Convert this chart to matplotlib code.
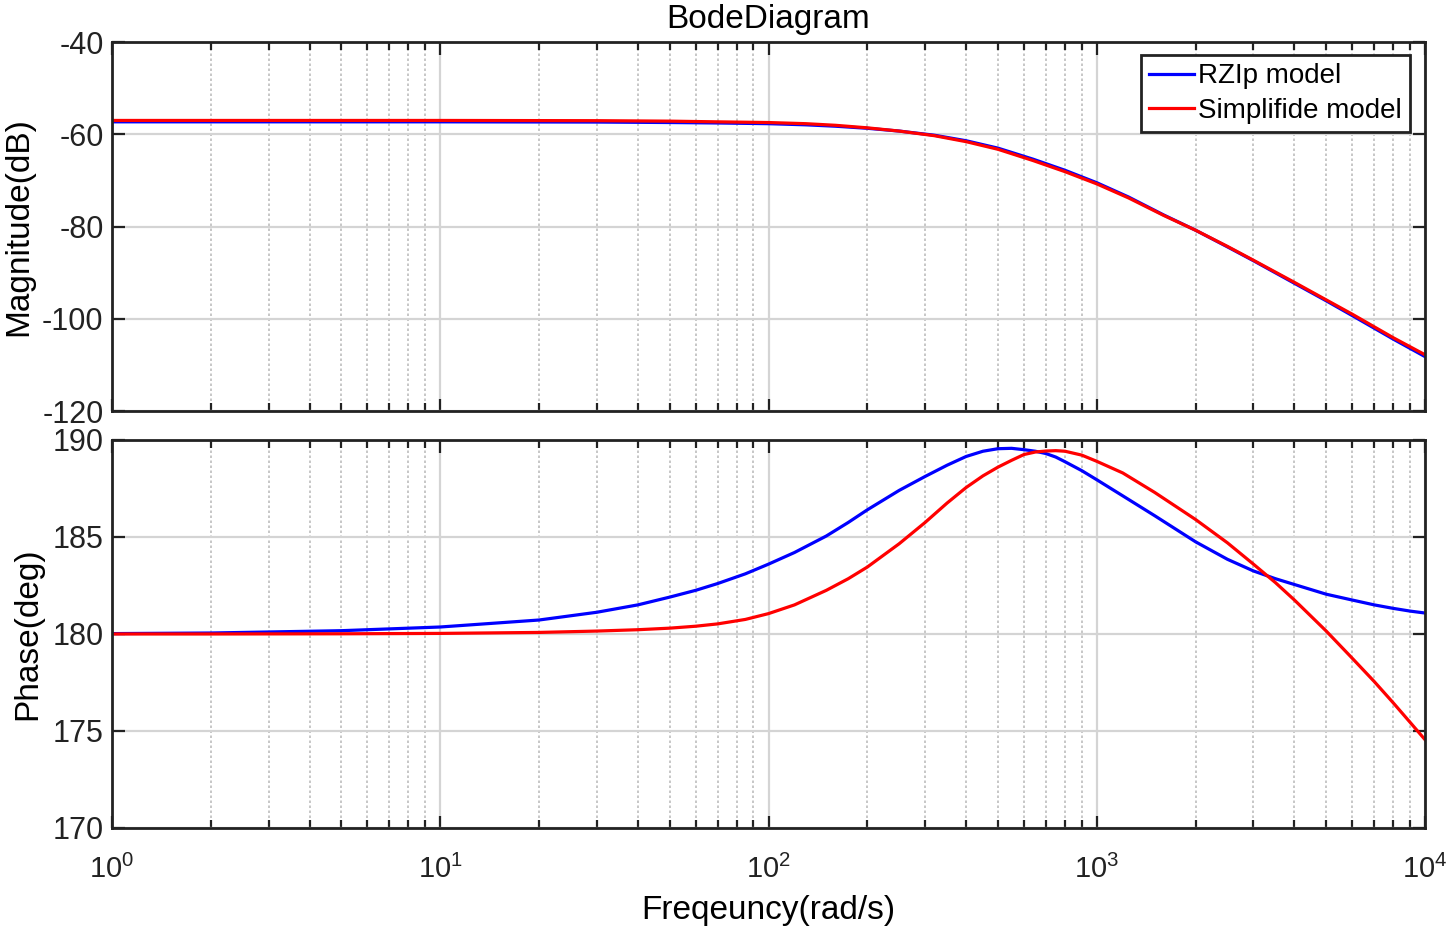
import matplotlib
matplotlib.use("Agg")
import matplotlib.pyplot as plt
from matplotlib.ticker import LogLocator, FixedLocator

plt.rcParams['font.family'] = ['Liberation Sans', 'DejaVu Sans']
plt.rcParams['axes.unicode_minus'] = False
plt.rcParams['mathtext.fontset'] = 'custom'
plt.rcParams['mathtext.rm'] = 'Liberation Sans'
plt.rcParams['mathtext.it'] = 'Liberation Sans'
plt.rcParams['mathtext.bf'] = 'Liberation Sans'

# ---------------- data ----------------
freq_mag = [1, 10, 30, 50, 70, 100, 130, 160, 200, 250, 320, 400, 500, 640,
            800, 1000, 1250, 1600, 2000, 2500, 3000, 4000, 5000, 6000, 8000,
            10000]
mag_rzip = [-57.3, -57.3, -57.35, -57.45, -57.55, -57.7, -57.95, -58.25,
            -58.7, -59.3, -60.2, -61.4, -63.0, -65.4, -67.8, -70.5, -73.6,
            -77.5, -80.8, -84.4, -87.4, -92.3, -96.1, -99.3, -104.4, -108.2]
mag_simp = [-57.0, -57.0, -57.05, -57.15, -57.3, -57.45, -57.7, -58.05,
            -58.6, -59.3, -60.3, -61.6, -63.25, -65.7, -68.1, -70.75, -73.8,
            -77.6, -80.8, -84.3, -87.3, -92.1, -95.9, -99.0, -104.1, -107.8]

freq_ph = [1, 2, 5, 10, 20, 30, 40, 50, 60, 70, 85, 100, 120, 150, 175, 200,
           250, 300, 350, 400, 450, 500, 550, 600, 650, 700, 750, 800, 900,
           1000, 1200, 1500, 2000, 2500, 3000, 3500, 4000, 5000, 6000, 7000,
           8000, 9000, 10000]
ph_rzip = [180.02, 180.05, 180.17, 180.36, 180.72, 181.12, 181.5, 181.9,
           182.25, 182.6, 183.1, 183.6, 184.2, 185.05, 185.75, 186.4, 187.4,
           188.12, 188.7, 189.15, 189.42, 189.55, 189.57, 189.5, 189.42,
           189.3, 189.12, 188.88, 188.42, 187.95, 187.12, 186.1, 184.75,
           183.85, 183.25, 182.85, 182.55, 182.05, 181.75, 181.5, 181.32,
           181.18, 181.08]
ph_simp = [180.0, 180.0, 180.01, 180.03, 180.08, 180.15, 180.22, 180.3,
           180.4, 180.52, 180.75, 181.05, 181.5, 182.25, 182.85, 183.45,
           184.65, 185.75, 186.75, 187.55, 188.15, 188.6, 188.95, 189.25,
           189.38, 189.43, 189.45, 189.42, 189.22, 188.9, 188.3, 187.3,
           185.9, 184.7, 183.6, 182.65, 181.75, 180.15, 178.75, 177.55,
           176.45, 175.45, 174.55]

series_names = ["RZIp model", "Simplifide model"]
mag_ticks = [-120, -100, -80, -60, -40]
ph_ticks = [170, 175, 180, 185, 190]

# ---------------- figure ----------------
fig = plt.figure(figsize=(14.5, 9.3), dpi=100)
ax1 = fig.add_axes([0.0772, 0.558, 0.9056, 0.3968])
ax2 = fig.add_axes([0.0772, 0.1097, 0.9056, 0.4172])

YFS = 22   # y tick labels
XFS = 21   # x tick labels
LFS = 24   # axis labels / title
for ax in (ax1, ax2):
    ax.set_xscale('log')
    ax.set_xlim(1, 1e4)
    ax.xaxis.set_major_locator(LogLocator(base=10, numticks=10))
    ax.xaxis.set_minor_locator(LogLocator(base=10, subs=range(2, 10), numticks=20))
    ax.grid(True, which='major', color='#d4d4d4', linewidth=1.6, linestyle='-')
    ax.grid(True, which='minor', axis='x', color='#bdbdbd', linewidth=1.2,
            linestyle=(0, (1.5, 1.5)))
    ax.set_axisbelow(True)
    ax.tick_params(which='both', direction='in', top=True, right=True,
                   colors='#222222', width=1.6)
    ax.tick_params(axis='y', labelsize=YFS)
    ax.tick_params(axis='x', labelsize=XFS)
    ax.tick_params(which='major', length=9, pad=6)
    ax.tick_params(which='minor', length=6)
    for s in ax.spines.values():
        s.set_linewidth(2.0)
        s.set_color('#222222')

ax1.plot(freq_mag, mag_rzip, color='#0000ff', lw=2.3, label=series_names[0])
ax1.plot(freq_mag, mag_simp, color='#ff0000', lw=2.3, label=series_names[1])
ax1.set_ylim(-120, -40)
ax1.yaxis.set_major_locator(FixedLocator(mag_ticks))
ax1.tick_params(axis='x', labelbottom=False)
ax1.set_ylabel('Magnitude(dB)', fontsize=LFS)
ax1.yaxis.set_label_coords(-0.0594, 0.5)
ax1.set_title('BodeDiagram', fontsize=LFS, pad=10)
leg = ax1.legend(loc='upper right', fontsize=20, frameon=True, fancybox=False,
                 edgecolor='#222222', handlelength=1.6, handletextpad=0.15,
                 borderpad=0.3, labelspacing=0.3, borderaxespad=0.0,
                 bbox_to_anchor=(0.9886, 0.9648), framealpha=1)
leg.get_frame().set_linewidth(2.0)

ax2.plot(freq_ph, ph_rzip, color='#0000ff', lw=2.3)
ax2.plot(freq_ph, ph_simp, color='#ff0000', lw=2.3)
ax2.set_ylim(170, 190)
ax2.yaxis.set_major_locator(FixedLocator(ph_ticks))
ax2.tick_params(axis='x', which='major', pad=19)
ax2.set_ylabel('Phase(deg)', fontsize=LFS)
ax2.yaxis.set_label_coords(-0.0526, 0.5)
ax2.set_xlabel('Freqeuncy(rad/s)', fontsize=LFS, labelpad=8)

fig.savefig('out.png', dpi=100, facecolor='white')
